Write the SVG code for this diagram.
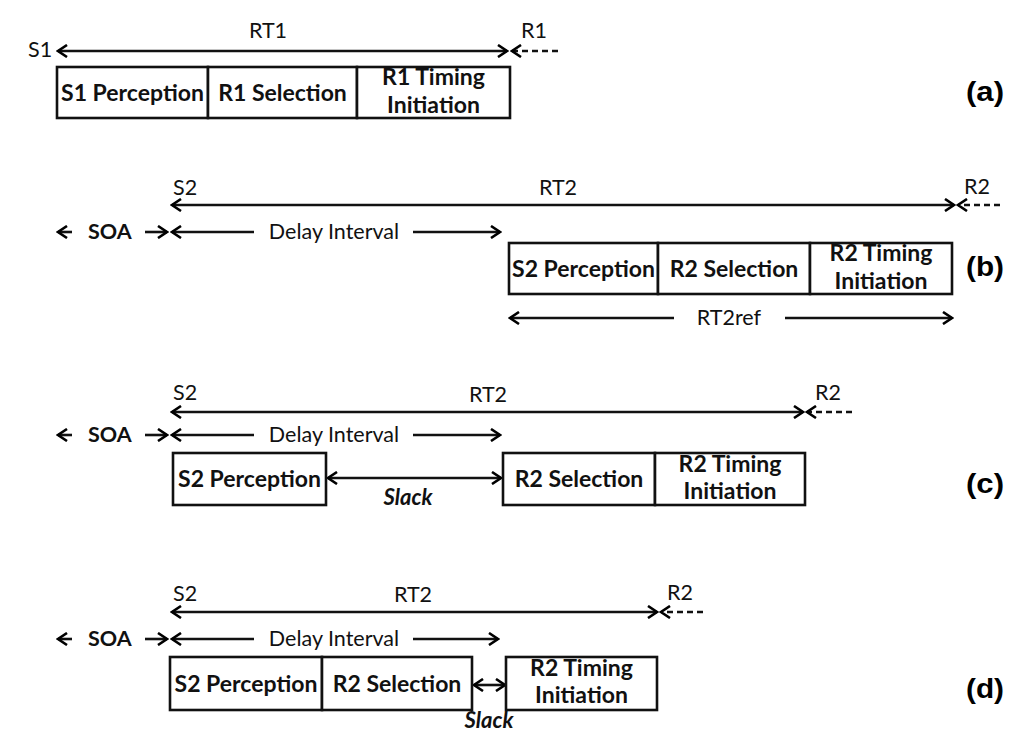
<svg xmlns="http://www.w3.org/2000/svg" width="1024" height="744" viewBox="0 0 1024 744">
<defs>
<marker id="ah" markerUnits="userSpaceOnUse" viewBox="0 0 12 14" refX="10" refY="7" markerWidth="12" markerHeight="14" orient="auto-start-reverse">
<path d="M1,1 L10,7 L1,13" fill="none" stroke="#000" stroke-width="2.6" stroke-linejoin="miter"/>
</marker>
<style>
.ln{stroke:#111;stroke-width:2.6;fill:none}
.ds{stroke:#111;stroke-width:2.6;fill:none;stroke-dasharray:6,4}
.bx{fill:#fff;stroke:#111;stroke-width:2.6}
.b{font-family:Lato,"Liberation Sans",sans-serif;font-weight:bold;font-size:23px;fill:#111;text-anchor:middle}
.r{font-family:Lato,"Liberation Sans",sans-serif;font-size:21.5px;fill:#111}
.rm{font-family:Lato,"Liberation Sans",sans-serif;font-size:21.5px;fill:#111;text-anchor:middle}
.sl{font-family:Lato,"Liberation Sans",sans-serif;font-weight:bold;font-style:italic;font-size:22px;fill:#111;text-anchor:middle}
.lab{font-family:"Liberation Sans",Arial,sans-serif;font-weight:bold;font-size:28px;fill:#000}
</style>
</defs>
<rect width="1024" height="744" fill="#fff"/>

<g id="connectors">
<!-- (a) -->
<line class="ln" x1="58" y1="51" x2="507" y2="51" marker-start="url(#ah)" marker-end="url(#ah)"/>
<line class="ds" x1="558" y1="51" x2="512" y2="51" marker-end="url(#ah)"/>
<!-- (b) -->
<line class="ln" x1="172" y1="205" x2="954" y2="205" marker-start="url(#ah)" marker-end="url(#ah)"/>
<line class="ds" x1="1000" y1="205" x2="958" y2="205" marker-end="url(#ah)"/>
<line class="ln" x1="72" y1="232" x2="58" y2="232" marker-end="url(#ah)"/>
<line class="ln" x1="145" y1="232" x2="167" y2="232" marker-end="url(#ah)"/>
<line class="ln" x1="254" y1="232" x2="172" y2="232" marker-end="url(#ah)"/>
<line class="ln" x1="413" y1="232" x2="500" y2="232" marker-end="url(#ah)"/>
<line class="ln" x1="674" y1="318" x2="510" y2="318" marker-end="url(#ah)"/>
<line class="ln" x1="785" y1="318" x2="952" y2="318" marker-end="url(#ah)"/>
<!-- (c) -->
<line class="ln" x1="172" y1="412" x2="803" y2="412" marker-start="url(#ah)" marker-end="url(#ah)"/>
<line class="ds" x1="852" y1="412" x2="807" y2="412" marker-end="url(#ah)"/>
<line class="ln" x1="72" y1="435" x2="58" y2="435" marker-end="url(#ah)"/>
<line class="ln" x1="145" y1="435" x2="167" y2="435" marker-end="url(#ah)"/>
<line class="ln" x1="254" y1="435" x2="172" y2="435" marker-end="url(#ah)"/>
<line class="ln" x1="413" y1="435" x2="500" y2="435" marker-end="url(#ah)"/>
<line class="ln" x1="328" y1="478" x2="501" y2="478" marker-start="url(#ah)" marker-end="url(#ah)"/>
<!-- (d) -->
<line class="ln" x1="172" y1="612" x2="657" y2="612" marker-start="url(#ah)" marker-end="url(#ah)"/>
<line class="ds" x1="703" y1="612" x2="661" y2="612" marker-end="url(#ah)"/>
<line class="ln" x1="72" y1="639" x2="58" y2="639" marker-end="url(#ah)"/>
<line class="ln" x1="145" y1="639" x2="167" y2="639" marker-end="url(#ah)"/>
<line class="ln" x1="254" y1="639" x2="172" y2="639" marker-end="url(#ah)"/>
<line class="ln" x1="413" y1="639" x2="498" y2="639" marker-end="url(#ah)"/>
<line class="ln" x1="474" y1="685" x2="505" y2="685" marker-start="url(#ah)" marker-end="url(#ah)"/>
</g>

<g id="labels">
<text class="r" x="28" y="57">S1</text>
<text class="rm" x="268" y="38">RT1</text>
<text class="r" x="521" y="38">R1</text>
<text class="lab" x="966" y="101" textLength="38" lengthAdjust="spacingAndGlyphs">(a)</text>

<text class="r" x="173" y="195">S2</text>
<text class="rm" x="558" y="195">RT2</text>
<text class="r" x="964" y="194">R2</text>
<text class="r" x="88" y="239" style="font-weight:bold">SOA</text>
<text class="rm" x="334" y="239">Delay Interval</text>
<text class="rm" x="729" y="325">RT2ref</text>
<text class="lab" x="966" y="276" textLength="38" lengthAdjust="spacingAndGlyphs">(b)</text>

<text class="r" x="173" y="400">S2</text>
<text class="rm" x="488" y="402">RT2</text>
<text class="r" x="815" y="400">R2</text>
<text class="r" x="88" y="442" style="font-weight:bold">SOA</text>
<text class="rm" x="334" y="442">Delay Interval</text>
<text class="sl" x="408" y="505">Slack</text>
<text class="lab" x="966" y="493" textLength="38" lengthAdjust="spacingAndGlyphs">(c)</text>

<text class="r" x="173" y="601">S2</text>
<text class="rm" x="413" y="602">RT2</text>
<text class="r" x="667" y="600">R2</text>
<text class="r" x="88" y="646" style="font-weight:bold">SOA</text>
<text class="rm" x="334" y="646">Delay Interval</text>
<text class="sl" x="489" y="728">Slack</text>
<text class="lab" x="966" y="698" textLength="38" lengthAdjust="spacingAndGlyphs">(d)</text>
</g>

<g id="a-s1-perception"><rect class="bx" x="57" y="67" width="151" height="51"/><text class="b" x="132.5" y="101">S1 Perception</text></g>
<g id="a-r1-selection"><rect class="bx" x="208" y="67" width="149" height="51"/><text class="b" x="282.5" y="101">R1 Selection</text></g>
<g id="a-r1-timing"><rect class="bx" x="357" y="67" width="153" height="51"/><text class="b" x="433.5" y="85">R1 Timing</text><text class="b" x="433.5" y="113">Initiation</text></g>

<g id="b-s2-perception"><rect class="bx" x="509" y="243" width="149" height="51"/><text class="b" x="583.5" y="277">S2 Perception</text></g>
<g id="b-r2-selection"><rect class="bx" x="658" y="243" width="152" height="51"/><text class="b" x="734" y="277">R2 Selection</text></g>
<g id="b-r2-timing"><rect class="bx" x="810" y="243" width="142" height="51"/><text class="b" x="881" y="261">R2 Timing</text><text class="b" x="881" y="289">Initiation</text></g>

<g id="c-s2-perception"><rect class="bx" x="173" y="453" width="153" height="52"/><text class="b" x="249.5" y="487">S2 Perception</text></g>
<g id="c-r2-selection"><rect class="bx" x="503" y="453" width="152" height="52"/><text class="b" x="579" y="487">R2 Selection</text></g>
<g id="c-r2-timing"><rect class="bx" x="655" y="453" width="150" height="52"/><text class="b" x="730" y="472">R2 Timing</text><text class="b" x="730" y="499">Initiation</text></g>

<g id="d-s2-perception"><rect class="bx" x="170" y="657" width="152" height="53"/><text class="b" x="246" y="692">S2 Perception</text></g>
<g id="d-r2-selection"><rect class="bx" x="322" y="657" width="150" height="53"/><text class="b" x="397" y="692">R2 Selection</text></g>
<g id="d-r2-timing"><rect class="bx" x="506" y="657" width="151" height="53"/><text class="b" x="581.5" y="676">R2 Timing</text><text class="b" x="581.5" y="703">Initiation</text></g>
</svg>
